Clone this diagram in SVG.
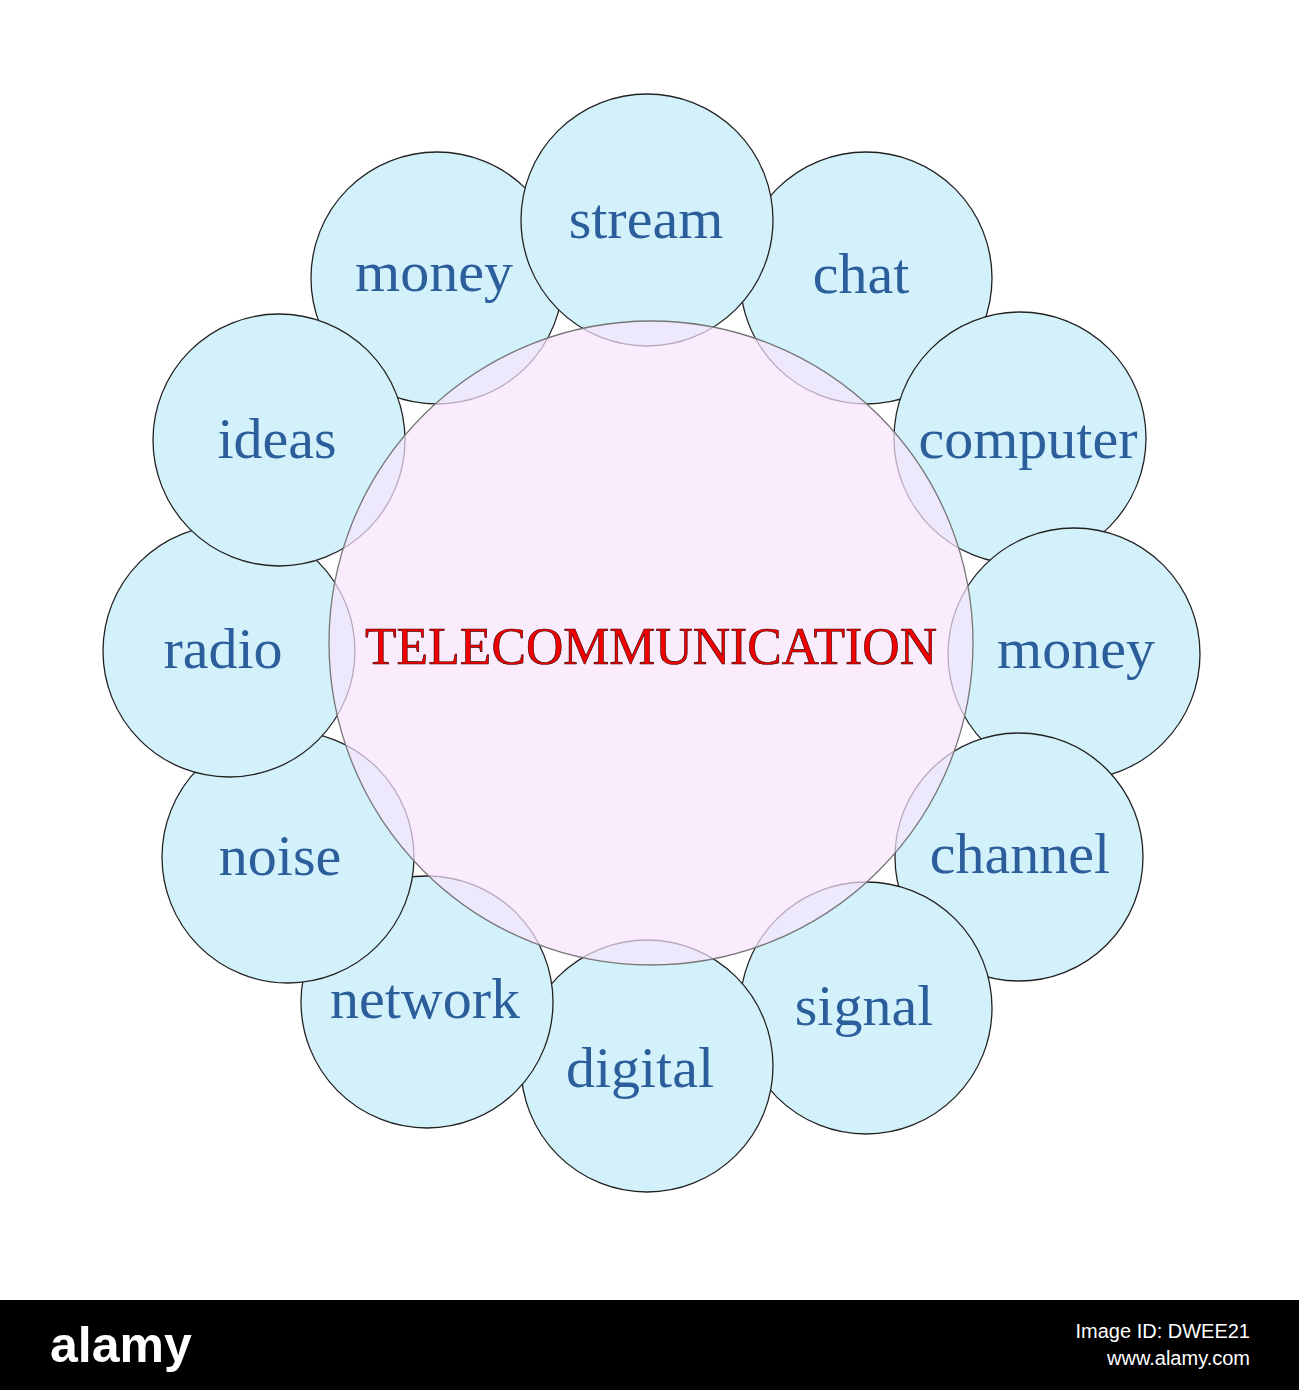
<svg xmlns="http://www.w3.org/2000/svg" width="1299" height="1390" viewBox="0 0 1299 1390">
<style>
.o{fill:#d3f1fa;stroke:#222;stroke-width:1.3}
.t{font-family:"Liberation Serif",serif;font-size:58px;fill:#2b5e9b;text-anchor:middle}
</style>
<rect width="1299" height="1390" fill="#fff"/>
<g id="nodes">
<g id="n-money-left"><circle class="o" cx="437" cy="278" r="126"/><text class="t" x="434" y="291">money</text></g>
<g id="n-chat"><circle class="o" cx="866" cy="278" r="126"/><text class="t" x="861" y="293">chat</text></g>
<g id="n-stream"><circle class="o" cx="647" cy="220" r="126"/><text class="t" x="646" y="238">stream</text></g>
<g id="n-computer"><circle class="o" cx="1020" cy="438" r="126"/><text class="t" x="1028" y="458">computer</text></g>
<g id="n-money-right"><circle class="o" cx="1074" cy="654" r="126"/><text class="t" x="1076" y="668">money</text></g>
<g id="n-channel"><circle class="o" cx="1019" cy="857" r="124"/><text class="t" x="1020" y="873">channel</text></g>
<g id="n-signal"><circle class="o" cx="866" cy="1008" r="126"/><text class="t" x="864" y="1025">signal</text></g>
<g id="n-digital"><circle class="o" cx="647" cy="1066" r="126"/><text class="t" x="640" y="1087">digital</text></g>
<g id="n-network"><circle class="o" cx="427" cy="1002" r="126"/><text class="t" x="425" y="1018">network</text></g>
<g id="n-noise"><circle class="o" cx="288" cy="857" r="126"/><text class="t" x="280" y="875">noise</text></g>
<g id="n-radio"><circle class="o" cx="229" cy="651" r="126"/><text class="t" x="223" y="668">radio</text></g>
<g id="n-ideas"><circle class="o" cx="279" cy="440" r="126"/><text class="t" x="277" y="458">ideas</text></g>
<g id="n-center"><circle cx="651" cy="643" r="322" fill="#f8e4fc" fill-opacity="0.7" stroke="#777" stroke-width="1.3"/>
<text x="651" y="664" font-family="Liberation Serif,serif" font-size="52" fill="#f00000" stroke="#300" stroke-width="0.6" text-anchor="middle" textLength="572" lengthAdjust="spacingAndGlyphs">TELECOMMUNICATION</text></g>
</g>
<g id="connectors"/>
<rect x="0" y="1300" width="1299" height="90" fill="#000"/>
<text x="50" y="1362" font-family="Liberation Sans,sans-serif" font-size="50" font-weight="bold" fill="#fff">alamy</text>
<text x="1250" y="1338" font-family="Liberation Sans,sans-serif" font-size="20" fill="#fff" text-anchor="end">Image ID: DWEE21</text>
<text x="1250" y="1365" font-family="Liberation Sans,sans-serif" font-size="20" fill="#fff" text-anchor="end">www.alamy.com</text>
</svg>
